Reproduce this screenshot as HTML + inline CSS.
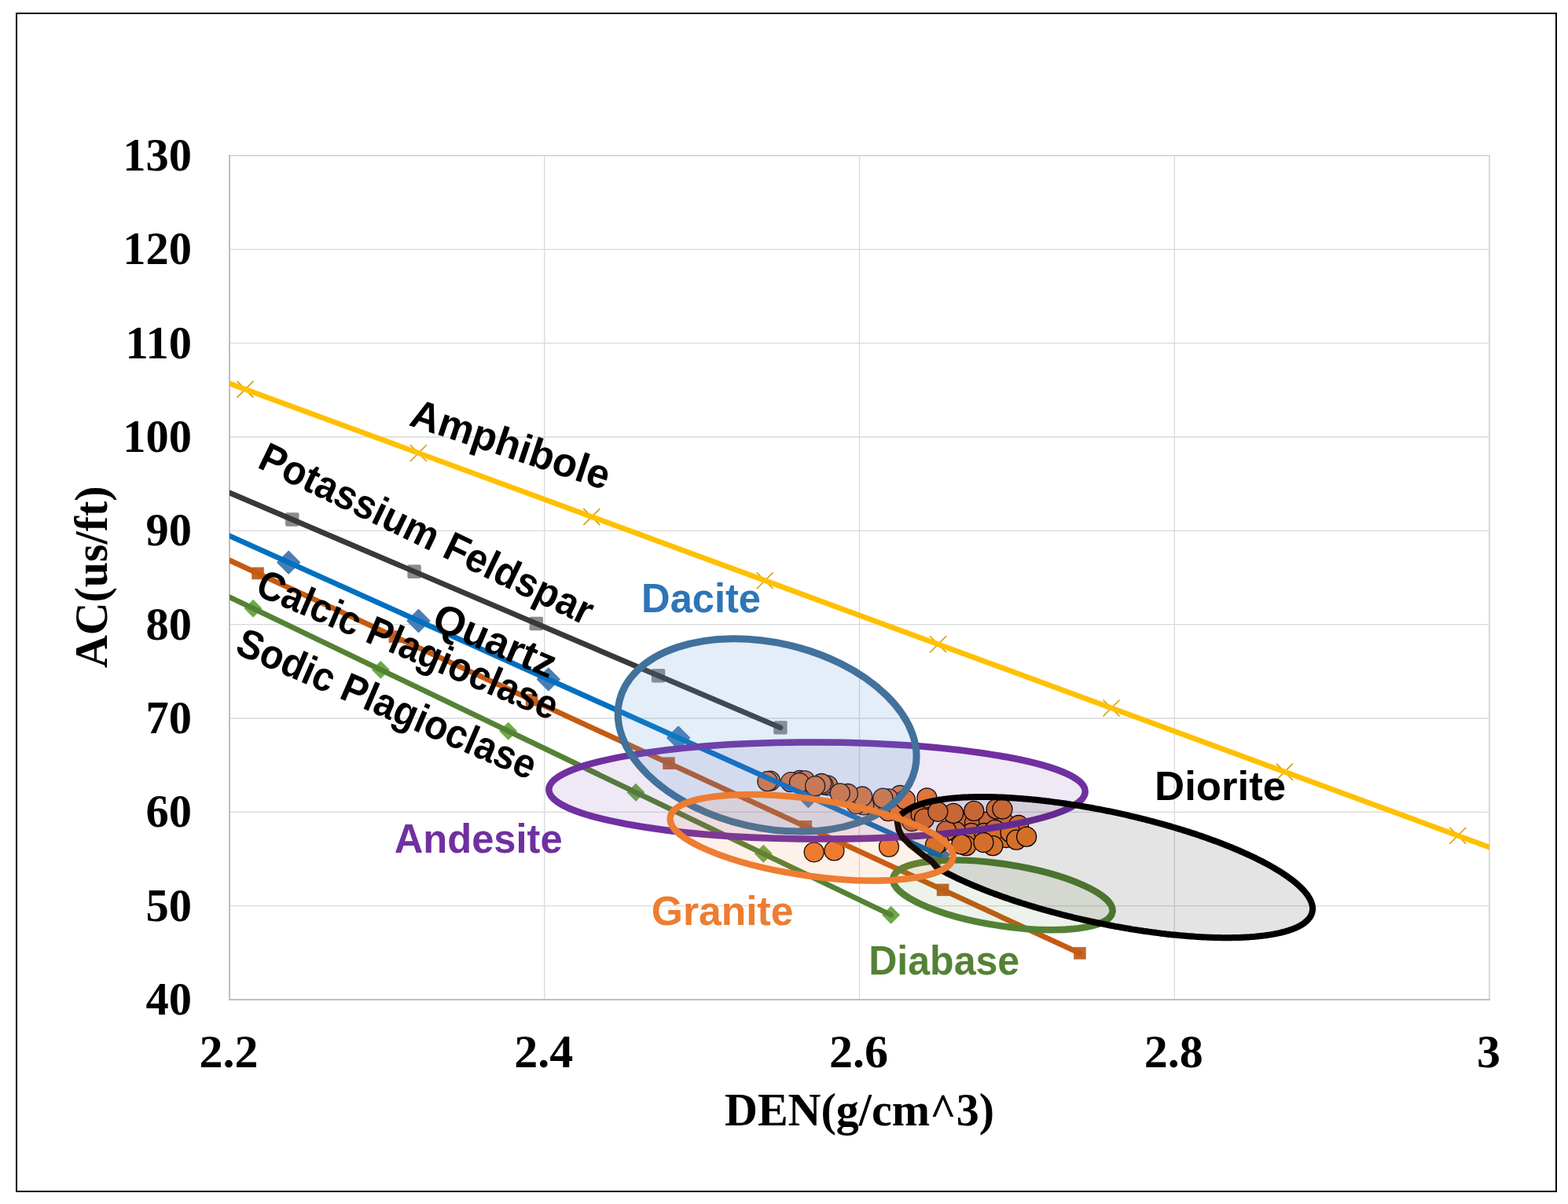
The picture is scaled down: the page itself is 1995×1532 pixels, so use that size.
<!DOCTYPE html><html><head><meta charset="utf-8"><title>AC vs DEN</title>
<style>html,body{margin:0;padding:0;background:#fff;}svg{display:block;}</style></head><body>
<svg width="1995" height="1532" viewBox="0 0 1995 1532">
<rect x="0" y="0" width="1995" height="1532" fill="#fff"/>
<rect x="21" y="17" width="1959" height="1499" fill="none" stroke="#000" stroke-width="2"/>
<g stroke="#d9d9d9"><line x1="292.0" y1="317.33" x2="1895.0" y2="317.33" stroke-width="1.3"/><line x1="292.0" y1="436.67" x2="1895.0" y2="436.67" stroke-width="1.3"/><line x1="292.0" y1="556.00" x2="1895.0" y2="556.00" stroke-width="1.3"/><line x1="292.0" y1="675.33" x2="1895.0" y2="675.33" stroke-width="1.3"/><line x1="292.0" y1="794.67" x2="1895.0" y2="794.67" stroke-width="1.3"/><line x1="292.0" y1="914.00" x2="1895.0" y2="914.00" stroke-width="1.3"/><line x1="292.0" y1="1033.33" x2="1895.0" y2="1033.33" stroke-width="1.3"/><line x1="292.0" y1="1152.67" x2="1895.0" y2="1152.67" stroke-width="1.3"/><line x1="292.0" y1="198.0" x2="1896.0" y2="198.0" stroke-width="2"/><line x1="692.75" y1="198.0" x2="692.75" y2="1272.0" stroke-width="1.3"/><line x1="1093.50" y1="198.0" x2="1093.50" y2="1272.0" stroke-width="1.3"/><line x1="1494.25" y1="198.0" x2="1494.25" y2="1272.0" stroke-width="1.3"/><line x1="1895.0" y1="197.0" x2="1895.0" y2="1272.0" stroke-width="2"/></g>
<g stroke="#bfbfbf" stroke-width="2"><line x1="292.0" y1="197.0" x2="292.0" y2="1273.0"/><line x1="291.0" y1="1272.0" x2="1896.0" y2="1272.0"/></g>
<g font-family="Liberation Serif, serif" font-weight="bold" font-size="60" fill="#000"><text transform="translate(244,217.0) scale(0.975,1)" x="0" y="0" text-anchor="end">130</text><text transform="translate(244,336.3) scale(0.975,1)" x="0" y="0" text-anchor="end">120</text><text transform="translate(244,455.7) scale(0.975,1)" x="0" y="0" text-anchor="end">110</text><text transform="translate(244,575.0) scale(0.975,1)" x="0" y="0" text-anchor="end">100</text><text transform="translate(244,694.3) scale(0.975,1)" x="0" y="0" text-anchor="end">90</text><text transform="translate(244,813.7) scale(0.975,1)" x="0" y="0" text-anchor="end">80</text><text transform="translate(244,933.0) scale(0.975,1)" x="0" y="0" text-anchor="end">70</text><text transform="translate(244,1052.3) scale(0.975,1)" x="0" y="0" text-anchor="end">60</text><text transform="translate(244,1171.7) scale(0.975,1)" x="0" y="0" text-anchor="end">50</text><text transform="translate(244,1291.0) scale(0.975,1)" x="0" y="0" text-anchor="end">40</text><text x="291.0" y="1358" text-anchor="middle">2.2</text><text x="691.8" y="1358" text-anchor="middle">2.4</text><text x="1092.5" y="1358" text-anchor="middle">2.6</text><text x="1493.2" y="1358" text-anchor="middle">2.8</text><text x="1894.0" y="1358" text-anchor="middle">3</text></g>
<text x="922" y="1432" font-family="Liberation Serif, serif" font-weight="bold" font-size="60" textLength="343" lengthAdjust="spacingAndGlyphs">DEN(g/cm^3)</text>
<text transform="translate(136,850) rotate(-90)" x="0" y="0" font-family="Liberation Serif, serif" font-weight="bold" font-size="60" textLength="231.5" lengthAdjust="spacingAndGlyphs">AC(us/ft)</text>
<defs><clipPath id="pa"><rect x="292" y="197" width="1602.8" height="1076"/></clipPath></defs>
<g clip-path="url(#pa)"><path d="M301.5 484.9L322.5 505.9M301.5 505.9L322.5 484.9" stroke="#D0A000" stroke-width="1.6" fill="none"/><path d="M521.9 566.0L542.9 587.0M521.9 587.0L542.9 566.0" stroke="#D0A000" stroke-width="1.6" fill="none"/><path d="M742.3 647.1L763.3 668.1M742.3 668.1L763.3 647.1" stroke="#D0A000" stroke-width="1.6" fill="none"/><path d="M962.7 728.2L983.7 749.2M962.7 749.2L983.7 728.2" stroke="#D0A000" stroke-width="1.6" fill="none"/><path d="M1183.1 809.3L1204.1 830.3M1183.1 830.3L1204.1 809.3" stroke="#D0A000" stroke-width="1.6" fill="none"/><path d="M1403.5 890.5L1424.5 911.5M1403.5 911.5L1424.5 890.5" stroke="#D0A000" stroke-width="1.6" fill="none"/><path d="M1623.9 971.6L1644.9 992.6M1623.9 992.6L1644.9 971.6" stroke="#D0A000" stroke-width="1.6" fill="none"/><path d="M1844.3 1052.7L1865.3 1073.7M1844.3 1073.7L1865.3 1052.7" stroke="#D0A000" stroke-width="1.6" fill="none"/><rect x="363.1" y="652.3" width="17.4" height="17.4" rx="2" fill="#8B8B8B"/><rect x="518.4" y="718.5" width="17.4" height="17.4" rx="2" fill="#8B8B8B"/><rect x="673.6" y="784.8" width="17.4" height="17.4" rx="2" fill="#8B8B8B"/><rect x="828.9" y="851.0" width="17.4" height="17.4" rx="2" fill="#8B8B8B"/><rect x="984.2" y="917.2" width="17.4" height="17.4" rx="2" fill="#8B8B8B"/><path d="M367.2 701.6L381.2 715.6L367.2 729.6L353.2 715.6Z" fill="#4A7DB5" stroke="#4A7DB5" stroke-width="2" stroke-linejoin="round"/><path d="M532.5 776.0L546.5 790.0L532.5 804.0L518.5 790.0Z" fill="#4A7DB5" stroke="#4A7DB5" stroke-width="2" stroke-linejoin="round"/><path d="M697.8 850.4L711.8 864.4L697.8 878.4L683.8 864.4Z" fill="#4A7DB5" stroke="#4A7DB5" stroke-width="2" stroke-linejoin="round"/><path d="M863.1 924.7L877.1 938.7L863.1 952.7L849.1 938.7Z" fill="#4A7DB5" stroke="#4A7DB5" stroke-width="2" stroke-linejoin="round"/><path d="M1028.4 999.1L1042.4 1013.1L1028.4 1027.1L1014.4 1013.1Z" fill="#4A7DB5" stroke="#4A7DB5" stroke-width="2" stroke-linejoin="round"/><path d="M1193.7 1073.5L1207.7 1087.5L1193.7 1101.5L1179.7 1087.5Z" fill="#4A7DB5" stroke="#4A7DB5" stroke-width="2" stroke-linejoin="round"/><rect x="320.2" y="721.7" width="15.6" height="15.6" fill="#C4652A"/><rect x="494.5" y="802.3" width="15.6" height="15.6" fill="#C4652A"/><rect x="668.8" y="882.9" width="15.6" height="15.6" fill="#C4652A"/><rect x="843.2" y="963.4" width="15.6" height="15.6" fill="#C4652A"/><rect x="1017.5" y="1044.0" width="15.6" height="15.6" fill="#C4652A"/><rect x="1191.8" y="1124.5" width="15.6" height="15.6" fill="#C4652A"/><rect x="1366.1" y="1205.1" width="15.6" height="15.6" fill="#C4652A"/><path d="M322.1 762.7L333.6 774.2L322.1 785.7L310.6 774.2Z" fill="#6CAA48"/><path d="M484.4 840.7L495.9 852.2L484.4 863.7L472.9 852.2Z" fill="#6CAA48"/><path d="M646.7 918.7L658.2 930.2L646.7 941.7L635.2 930.2Z" fill="#6CAA48"/><path d="M809.0 996.7L820.5 1008.2L809.0 1019.7L797.5 1008.2Z" fill="#6CAA48"/><path d="M971.3 1074.8L982.8 1086.3L971.3 1097.8L959.8 1086.3Z" fill="#6CAA48"/><path d="M1133.6 1152.8L1145.1 1164.3L1133.6 1175.8L1122.1 1164.3Z" fill="#6CAA48"/></g>
<g fill="#ED7D31" stroke="#000" stroke-width="1.3"><circle cx="980.0" cy="993.6" r="12.5"/><circle cx="976.4" cy="994.2" r="12.5"/><circle cx="1017.6" cy="993.0" r="12.5"/><circle cx="1024.2" cy="993.3" r="12.5"/><circle cx="1006.1" cy="995.2" r="12.5"/><circle cx="1017.0" cy="996.0" r="12.5"/><circle cx="1053.3" cy="999.4" r="12.5"/><circle cx="1047.3" cy="998.5" r="12.5"/><circle cx="1045.2" cy="997.0" r="12.5"/><circle cx="1037.1" cy="1000.1" r="12.5"/><circle cx="1112.0" cy="1028.0" r="12.5"/><circle cx="1099.3" cy="1024.4" r="12.5"/><circle cx="1089.5" cy="1023.0" r="12.5"/><circle cx="1130.2" cy="1032.1" r="12.5"/><circle cx="1144.2" cy="1033.5" r="12.5"/><circle cx="1160.0" cy="1045.0" r="12.5"/><circle cx="1171.6" cy="1036.3" r="12.5"/><circle cx="1176.0" cy="1041.7" r="12.5"/><circle cx="1097.2" cy="1013.5" r="12.5"/><circle cx="1078.9" cy="1010.0" r="12.5"/><circle cx="1068.8" cy="1009.3" r="12.5"/><circle cx="1145.0" cy="1012.0" r="12.5"/><circle cx="1130.5" cy="1016.3" r="12.5"/><circle cx="1123.3" cy="1015.6" r="12.5"/><circle cx="1151.9" cy="1017.7" r="12.5"/><circle cx="1179.4" cy="1015.3" r="12.5"/><circle cx="1220.0" cy="1046.0" r="12.5"/><circle cx="1240.0" cy="1047.0" r="12.5"/><circle cx="1258.0" cy="1045.0" r="12.5"/><circle cx="1278.0" cy="1047.0" r="12.5"/><circle cx="1296.0" cy="1050.0" r="12.5"/><circle cx="1236.0" cy="1060.0" r="12.5"/><circle cx="1252.3" cy="1060.0" r="12.5"/><circle cx="1280.0" cy="1066.0" r="12.5"/><circle cx="1216.5" cy="1058.3" r="12.5"/><circle cx="1204.1" cy="1057.1" r="12.5"/><circle cx="1265.9" cy="1055.8" r="12.5"/><circle cx="1285.5" cy="1059.2" r="12.5"/><circle cx="1293.2" cy="1068.6" r="12.5"/><circle cx="1306.1" cy="1064.7" r="12.5"/><circle cx="1194.8" cy="1072.2" r="12.5"/><circle cx="1229.3" cy="1076.2" r="12.5"/><circle cx="1223.3" cy="1074.5" r="12.5"/><circle cx="1263.3" cy="1076.2" r="12.5"/><circle cx="1251.4" cy="1072.0" r="12.5"/><circle cx="1190.0" cy="1075.4" r="12.5"/><circle cx="1267.6" cy="1029.4" r="12.5"/><circle cx="1275.4" cy="1029.5" r="12.5"/><circle cx="1239.2" cy="1031.9" r="12.5"/><circle cx="1213.1" cy="1034.9" r="12.5"/><circle cx="1193.3" cy="1032.8" r="12.5"/><circle cx="1035.7" cy="1084.3" r="12.5"/><circle cx="1061.4" cy="1082.4" r="12.5"/><circle cx="1131.0" cy="1077.6" r="12.5"/></g>
<g clip-path="url(#pa)" stroke-width="6.8" stroke-linecap="round"><line x1="292" y1="488.0" x2="1895" y2="1078.0" stroke="#FFC000"/><line x1="292" y1="627.0" x2="992.9" y2="925.9" stroke="#3B3838"/><line x1="292" y1="681.8" x2="1196" y2="1088.5" stroke="#0070C0"/><line x1="292" y1="712.9" x2="1373.9" y2="1212.9" stroke="#C55A11"/><line x1="292" y1="759.7" x2="1133.6" y2="1164.3" stroke="#548235"/></g>
<ellipse cx="1039.5" cy="1006" rx="341.2" ry="61.6" transform="rotate(0.2 1039.5 1006)" fill="#7030A0" fill-opacity="0.11" stroke="#7030A0" stroke-width="8.5"/>
<ellipse cx="976.1" cy="935.4" rx="193" ry="117.8" transform="rotate(12.96 976.1 935.4)" fill="#5B9BD5" fill-opacity="0.167" stroke="#41719C" stroke-width="9"/>
<ellipse cx="1275.85" cy="1138.85" rx="141.25" ry="39.25" transform="rotate(8.76 1275.85 1138.85)" fill="#548235" fill-opacity="0.107" stroke="#548235" stroke-width="8.5"/>
<path d="M1141.5 1044.5 L1143.5 1056.0 L1148.0 1065.0 L1158.0 1075.0 L1173.0 1087.0 L1186.0 1096.5 L1192.1 1104.1 L1193.4 1104.8 L1194.8 1105.6 L1196.2 1106.4 L1197.7 1107.2 L1199.1 1108.0 L1200.6 1108.7 L1202.0 1109.5 L1203.5 1110.3 L1205.0 1111.1 L1206.5 1111.9 L1208.1 1112.6 L1209.6 1113.4 L1211.2 1114.2 L1212.7 1115.0 L1214.3 1115.7 L1215.9 1116.5 L1217.6 1117.3 L1219.2 1118.1 L1220.8 1118.8 L1222.5 1119.6 L1224.2 1120.4 L1225.9 1121.1 L1227.6 1121.9 L1229.3 1122.7 L1231.0 1123.4 L1232.8 1124.2 L1234.5 1125.0 L1236.3 1125.7 L1238.1 1126.5 L1239.9 1127.2 L1241.7 1128.0 L1243.5 1128.7 L1245.3 1129.5 L1247.2 1130.2 L1249.0 1131.0 L1250.9 1131.7 L1252.8 1132.5 L1254.7 1133.2 L1256.6 1133.9 L1258.5 1134.7 L1260.4 1135.4 L1262.3 1136.1 L1264.3 1136.9 L1266.3 1137.6 L1268.2 1138.3 L1270.2 1139.0 L1272.2 1139.7 L1274.2 1140.5 L1276.2 1141.2 L1278.2 1141.9 L1280.3 1142.6 L1282.3 1143.3 L1284.3 1144.0 L1286.4 1144.7 L1288.5 1145.4 L1290.5 1146.1 L1292.6 1146.8 L1294.7 1147.4 L1296.8 1148.1 L1298.9 1148.8 L1301.1 1149.5 L1303.2 1150.1 L1305.3 1150.8 L1307.5 1151.5 L1309.6 1152.1 L1311.8 1152.8 L1313.9 1153.4 L1316.1 1154.1 L1318.3 1154.7 L1320.5 1155.4 L1322.6 1156.0 L1324.8 1156.6 L1327.0 1157.3 L1329.3 1157.9 L1331.5 1158.5 L1333.7 1159.1 L1335.9 1159.7 L1338.1 1160.3 L1340.4 1160.9 L1342.6 1161.5 L1344.9 1162.1 L1347.1 1162.7 L1349.4 1163.3 L1351.6 1163.9 L1353.9 1164.5 L1356.2 1165.0 L1358.4 1165.6 L1360.7 1166.2 L1363.0 1166.7 L1365.3 1167.3 L1367.5 1167.8 L1369.8 1168.4 L1372.1 1168.9 L1374.4 1169.4 L1376.7 1170.0 L1379.0 1170.5 L1381.3 1171.0 L1383.6 1171.5 L1385.9 1172.0 L1388.2 1172.5 L1390.5 1173.0 L1392.8 1173.5 L1395.1 1174.0 L1397.4 1174.5 L1399.7 1175.0 L1402.1 1175.4 L1404.4 1175.9 L1406.7 1176.4 L1409.0 1176.8 L1411.3 1177.3 L1413.6 1177.7 L1415.9 1178.1 L1418.2 1178.6 L1420.5 1179.0 L1422.8 1179.4 L1425.1 1179.8 L1427.4 1180.2 L1429.7 1180.6 L1432.0 1181.0 L1434.3 1181.4 L1436.6 1181.8 L1438.9 1182.2 L1441.2 1182.6 L1443.5 1182.9 L1445.8 1183.3 L1448.1 1183.6 L1450.3 1184.0 L1452.6 1184.3 L1454.9 1184.7 L1457.1 1185.0 L1459.4 1185.3 L1461.7 1185.6 L1463.9 1185.9 L1466.2 1186.3 L1468.4 1186.5 L1470.7 1186.8 L1472.9 1187.1 L1475.1 1187.4 L1477.3 1187.7 L1479.6 1187.9 L1481.8 1188.2 L1484.0 1188.5 L1486.2 1188.7 L1488.4 1189.0 L1490.6 1189.2 L1492.8 1189.4 L1494.9 1189.6 L1497.1 1189.8 L1499.3 1190.1 L1501.4 1190.3 L1503.6 1190.5 L1505.7 1190.6 L1507.8 1190.8 L1510.0 1191.0 L1512.1 1191.2 L1514.2 1191.3 L1516.3 1191.5 L1518.4 1191.6 L1520.5 1191.8 L1522.5 1191.9 L1524.6 1192.0 L1526.7 1192.2 L1528.7 1192.3 L1530.8 1192.4 L1532.8 1192.5 L1534.8 1192.6 L1536.8 1192.7 L1538.8 1192.8 L1540.8 1192.8 L1542.8 1192.9 L1544.7 1193.0 L1546.7 1193.0 L1548.7 1193.1 L1550.6 1193.1 L1552.5 1193.1 L1554.4 1193.2 L1556.3 1193.2 L1558.2 1193.2 L1560.1 1193.2 L1562.0 1193.2 L1563.8 1193.2 L1565.7 1193.2 L1567.5 1193.2 L1569.3 1193.1 L1571.1 1193.1 L1572.9 1193.0 L1574.7 1193.0 L1576.5 1192.9 L1578.2 1192.9 L1580.0 1192.8 L1581.7 1192.7 L1583.4 1192.7 L1585.1 1192.6 L1586.8 1192.5 L1588.5 1192.4 L1590.1 1192.3 L1591.8 1192.1 L1593.4 1192.0 L1595.0 1191.9 L1596.6 1191.8 L1598.2 1191.6 L1599.8 1191.5 L1601.4 1191.3 L1602.9 1191.1 L1604.4 1191.0 L1605.9 1190.8 L1607.4 1190.6 L1608.9 1190.4 L1610.4 1190.2 L1611.8 1190.0 L1613.3 1189.8 L1614.7 1189.6 L1616.1 1189.4 L1617.5 1189.1 L1618.9 1188.9 L1620.2 1188.7 L1621.6 1188.4 L1622.9 1188.2 L1624.2 1187.9 L1625.5 1187.6 L1626.8 1187.4 L1628.0 1187.1 L1629.3 1186.8 L1630.5 1186.5 L1631.7 1186.2 L1632.9 1185.9 L1634.0 1185.6 L1635.2 1185.3 L1636.3 1184.9 L1637.5 1184.6 L1638.6 1184.3 L1639.6 1183.9 L1640.7 1183.6 L1641.7 1183.2 L1642.8 1182.9 L1643.8 1182.5 L1644.8 1182.1 L1645.8 1181.7 L1646.7 1181.4 L1647.7 1181.0 L1648.6 1180.6 L1649.5 1180.2 L1650.4 1179.8 L1651.2 1179.3 L1652.1 1178.9 L1652.9 1178.5 L1653.7 1178.1 L1654.5 1177.6 L1655.3 1177.2 L1656.0 1176.7 L1656.7 1176.3 L1657.5 1175.8 L1658.1 1175.4 L1658.8 1174.9 L1659.5 1174.4 L1660.1 1173.9 L1660.7 1173.4 L1661.3 1172.9 L1661.9 1172.4 L1662.5 1171.9 L1663.0 1171.4 L1663.5 1170.9 L1664.0 1170.4 L1664.5 1169.9 L1665.0 1169.3 L1665.4 1168.8 L1665.8 1168.3 L1666.2 1167.7 L1666.6 1167.2 L1667.0 1166.6 L1667.3 1166.1 L1667.6 1165.5 L1667.9 1164.9 L1668.2 1164.4 L1668.5 1163.8 L1668.7 1163.2 L1668.9 1162.6 L1669.1 1162.0 L1669.3 1161.4 L1669.5 1160.8 L1669.6 1160.2 L1669.7 1159.6 L1669.8 1159.0 L1669.9 1158.4 L1670.0 1157.8 L1670.0 1157.2 L1670.0 1156.5 L1670.0 1155.9 L1670.0 1155.3 L1670.0 1154.6 L1669.9 1154.0 L1669.8 1153.3 L1669.7 1152.7 L1669.6 1152.0 L1669.4 1151.4 L1669.3 1150.7 L1669.1 1150.0 L1668.9 1149.4 L1668.7 1148.7 L1668.4 1148.0 L1668.2 1147.3 L1667.9 1146.6 L1667.6 1146.0 L1667.3 1145.3 L1666.9 1144.6 L1666.6 1143.9 L1666.2 1143.2 L1665.8 1142.5 L1665.3 1141.8 L1664.9 1141.1 L1664.4 1140.3 L1664.0 1139.6 L1663.5 1138.9 L1662.9 1138.2 L1662.4 1137.5 L1661.8 1136.7 L1661.3 1136.0 L1660.7 1135.3 L1660.0 1134.6 L1659.4 1133.8 L1658.8 1133.1 L1658.1 1132.3 L1657.4 1131.6 L1656.7 1130.9 L1655.9 1130.1 L1655.2 1129.4 L1654.4 1128.6 L1653.6 1127.9 L1652.8 1127.1 L1652.0 1126.4 L1651.1 1125.6 L1650.3 1124.8 L1649.4 1124.1 L1648.5 1123.3 L1647.6 1122.5 L1646.6 1121.8 L1645.7 1121.0 L1644.7 1120.2 L1643.7 1119.5 L1642.7 1118.7 L1641.6 1117.9 L1640.6 1117.2 L1639.5 1116.4 L1638.4 1115.6 L1637.3 1114.8 L1636.2 1114.1 L1635.1 1113.3 L1633.9 1112.5 L1632.8 1111.7 L1631.6 1111.0 L1630.4 1110.2 L1629.1 1109.4 L1627.9 1108.6 L1626.6 1107.8 L1625.4 1107.1 L1624.1 1106.3 L1622.8 1105.5 L1621.4 1104.7 L1620.1 1103.9 L1618.7 1103.1 L1617.4 1102.4 L1616.0 1101.6 L1614.6 1100.8 L1613.1 1100.0 L1611.7 1099.2 L1610.2 1098.5 L1608.8 1097.7 L1607.3 1096.9 L1605.8 1096.1 L1604.3 1095.3 L1602.7 1094.6 L1601.2 1093.8 L1599.6 1093.0 L1598.1 1092.2 L1596.5 1091.5 L1594.9 1090.7 L1593.2 1089.9 L1591.6 1089.1 L1590.0 1088.4 L1588.3 1087.6 L1586.6 1086.8 L1584.9 1086.1 L1583.2 1085.3 L1581.5 1084.5 L1579.8 1083.8 L1578.0 1083.0 L1576.3 1082.2 L1574.5 1081.5 L1572.7 1080.7 L1570.9 1080.0 L1569.1 1079.2 L1567.3 1078.5 L1565.5 1077.7 L1563.6 1077.0 L1561.8 1076.2 L1559.9 1075.5 L1558.0 1074.7 L1556.1 1074.0 L1554.2 1073.3 L1552.3 1072.5 L1550.4 1071.8 L1548.5 1071.1 L1546.5 1070.3 L1544.5 1069.6 L1542.6 1068.9 L1540.6 1068.2 L1538.6 1067.5 L1536.6 1066.7 L1534.6 1066.0 L1532.6 1065.3 L1530.5 1064.6 L1528.5 1063.9 L1526.5 1063.2 L1524.4 1062.5 L1522.3 1061.8 L1520.3 1061.1 L1518.2 1060.4 L1516.1 1059.8 L1514.0 1059.1 L1511.9 1058.4 L1509.7 1057.7 L1507.6 1057.1 L1505.5 1056.4 L1503.3 1055.7 L1501.2 1055.1 L1499.0 1054.4 L1496.9 1053.8 L1494.7 1053.1 L1492.5 1052.5 L1490.3 1051.8 L1488.2 1051.2 L1486.0 1050.6 L1483.8 1049.9 L1481.5 1049.3 L1479.3 1048.7 L1477.1 1048.1 L1474.9 1047.5 L1472.7 1046.9 L1470.4 1046.3 L1468.2 1045.7 L1465.9 1045.1 L1463.7 1044.5 L1461.4 1043.9 L1459.2 1043.3 L1456.9 1042.7 L1454.6 1042.2 L1452.4 1041.6 L1450.1 1041.0 L1447.8 1040.5 L1445.5 1039.9 L1443.3 1039.4 L1441.0 1038.8 L1438.7 1038.3 L1436.4 1037.8 L1434.1 1037.2 L1431.8 1036.7 L1429.5 1036.2 L1427.2 1035.7 L1424.9 1035.2 L1422.6 1034.7 L1420.3 1034.2 L1418.0 1033.7 L1415.7 1033.2 L1413.4 1032.7 L1411.1 1032.2 L1408.7 1031.8 L1406.4 1031.3 L1404.1 1030.8 L1401.8 1030.4 L1399.5 1029.9 L1397.2 1029.5 L1394.9 1029.1 L1392.6 1028.6 L1390.3 1028.2 L1388.0 1027.8 L1385.7 1027.4 L1383.4 1027.0 L1381.1 1026.6 L1378.8 1026.2 L1376.5 1025.8 L1374.2 1025.4 L1371.9 1025.0 L1369.6 1024.6 L1367.3 1024.3 L1365.0 1023.9 L1362.7 1023.6 L1360.5 1023.2 L1358.2 1022.9 L1355.9 1022.5 L1353.7 1022.2 L1351.4 1021.9 L1349.1 1021.6 L1346.9 1021.3 L1344.6 1020.9 L1342.4 1020.7 L1340.1 1020.4 L1337.9 1020.1 L1335.7 1019.8 L1333.5 1019.5 L1331.2 1019.3 L1329.0 1019.0 L1326.8 1018.7 L1324.6 1018.5 L1322.4 1018.2 L1320.2 1018.0 L1318.0 1017.8 L1315.9 1017.6 L1313.7 1017.4 L1311.5 1017.1 L1309.4 1016.9 L1307.2 1016.7 L1305.1 1016.6 L1303.0 1016.4 L1300.8 1016.2 L1298.7 1016.0 L1296.6 1015.9 L1294.5 1015.7 L1292.4 1015.6 L1290.3 1015.4 L1288.3 1015.3 L1286.2 1015.2 L1284.1 1015.0 L1282.1 1014.9 L1280.0 1014.8 L1278.0 1014.7 L1276.0 1014.6 L1274.0 1014.5 L1272.0 1014.4 L1270.0 1014.4 L1268.0 1014.3 L1266.1 1014.2 L1264.1 1014.2 L1262.1 1014.1 L1260.2 1014.1 L1258.3 1014.1 L1256.4 1014.0 L1254.5 1014.0 L1252.6 1014.0 L1250.7 1014.0 L1248.8 1014.0 L1247.0 1014.0 L1245.1 1014.0 L1243.3 1014.0 L1241.5 1014.1 L1239.7 1014.1 L1237.9 1014.2 L1236.1 1014.2 L1234.3 1014.3 L1232.6 1014.3 L1230.8 1014.4 L1229.1 1014.5 L1227.4 1014.5 L1225.7 1014.6 L1224.0 1014.7 L1222.3 1014.8 L1220.7 1014.9 L1219.0 1015.1 L1217.4 1015.2 L1215.8 1015.3 L1214.2 1015.4 L1212.6 1015.6 L1211.0 1015.7 L1209.4 1015.9 L1207.9 1016.1 L1206.4 1016.2 L1204.9 1016.4 L1203.4 1016.6 L1201.9 1016.8 L1200.4 1017.0 L1199.0 1017.2 L1197.5 1017.4 L1196.1 1017.6 L1194.7 1017.8 L1193.3 1018.1 L1191.9 1018.3 L1190.6 1018.5 L1189.2 1018.8 L1187.9 1019.0 L1186.6 1019.3 L1185.3 1019.6 L1184.0 1019.8 L1182.8 1020.1 L1181.5 1020.4 L1180.3 1020.7 L1179.1 1021.0 L1177.9 1021.3 L1176.8 1021.6 L1175.6 1021.9 L1174.5 1022.3 L1173.3 1022.6 L1172.2 1022.9 L1171.2 1023.3 L1170.1 1023.6 L1169.1 1024.0 L1168.0 1024.3 L1167.0 1024.7 L1166.0 1025.1 L1165.0 1025.5 L1164.1 1025.8 L1163.1 1026.2 L1162.2 1026.6 L1161.3 1027.0 L1160.4 1027.4 L1159.6 1027.9 L1158.7 1028.3 L1157.9 1028.7 L1157.1 1029.1 L1156.3 1029.6 L1155.5 1030.0 L1154.8 1030.5 L1154.1 1030.9 L1153.3 1031.4 L1152.7 1031.8 L1152.0 1032.3 L1146.0 1036.5" fill="#000" fill-opacity="0.106" stroke="#000" stroke-width="8" stroke-linejoin="round"/>
<ellipse cx="1032.65" cy="1065.8" rx="181.8" ry="48.8" transform="rotate(8.14 1032.65 1065.8)" fill="#ED7D31" fill-opacity="0.107" stroke="#ED7D31" stroke-width="8.2"/>
<g font-family="Liberation Sans, Arial, sans-serif" font-weight="bold" font-size="52"><text transform="translate(519.0,540.7) rotate(18.32)" x="0" y="0" fill="#000" textLength="263.7" lengthAdjust="spacingAndGlyphs">Amphibole</text><text transform="translate(325.7,594.0) rotate(25.77)" x="0" y="0" fill="#000" textLength="465.1" lengthAdjust="spacingAndGlyphs">Potassium Feldspar</text><text transform="translate(547.2,798.9) rotate(23.04)" x="0" y="0" fill="#000" textLength="164.8" lengthAdjust="spacingAndGlyphs">Quartz</text><text transform="translate(323.0,756.2) rotate(23.05)" x="0" y="0" fill="#000" textLength="411.0" lengthAdjust="spacingAndGlyphs">Calcic Plagioclase</text><text transform="translate(297.2,830.7) rotate(23.27)" x="0" y="0" fill="#000" textLength="409.6" lengthAdjust="spacingAndGlyphs">Sodic Plagioclase</text><text transform="translate(816.1,779) rotate(0)" x="0" y="0" fill="#2E75B6" textLength="151.9" lengthAdjust="spacingAndGlyphs">Dacite</text><text transform="translate(501.8,1085) rotate(0)" x="0" y="0" fill="#7030A0" textLength="213.8" lengthAdjust="spacingAndGlyphs">Andesite</text><text transform="translate(828.8,1176.5) rotate(0)" x="0" y="0" fill="#ED7D31" textLength="180.7" lengthAdjust="spacingAndGlyphs">Granite</text><text transform="translate(1105.2,1239.5) rotate(0)" x="0" y="0" fill="#548235" textLength="192" lengthAdjust="spacingAndGlyphs">Diabase</text><text transform="translate(1469.1,1017.8) rotate(0)" x="0" y="0" fill="#000" textLength="166.9" lengthAdjust="spacingAndGlyphs">Diorite</text></g>
</svg></body></html>
